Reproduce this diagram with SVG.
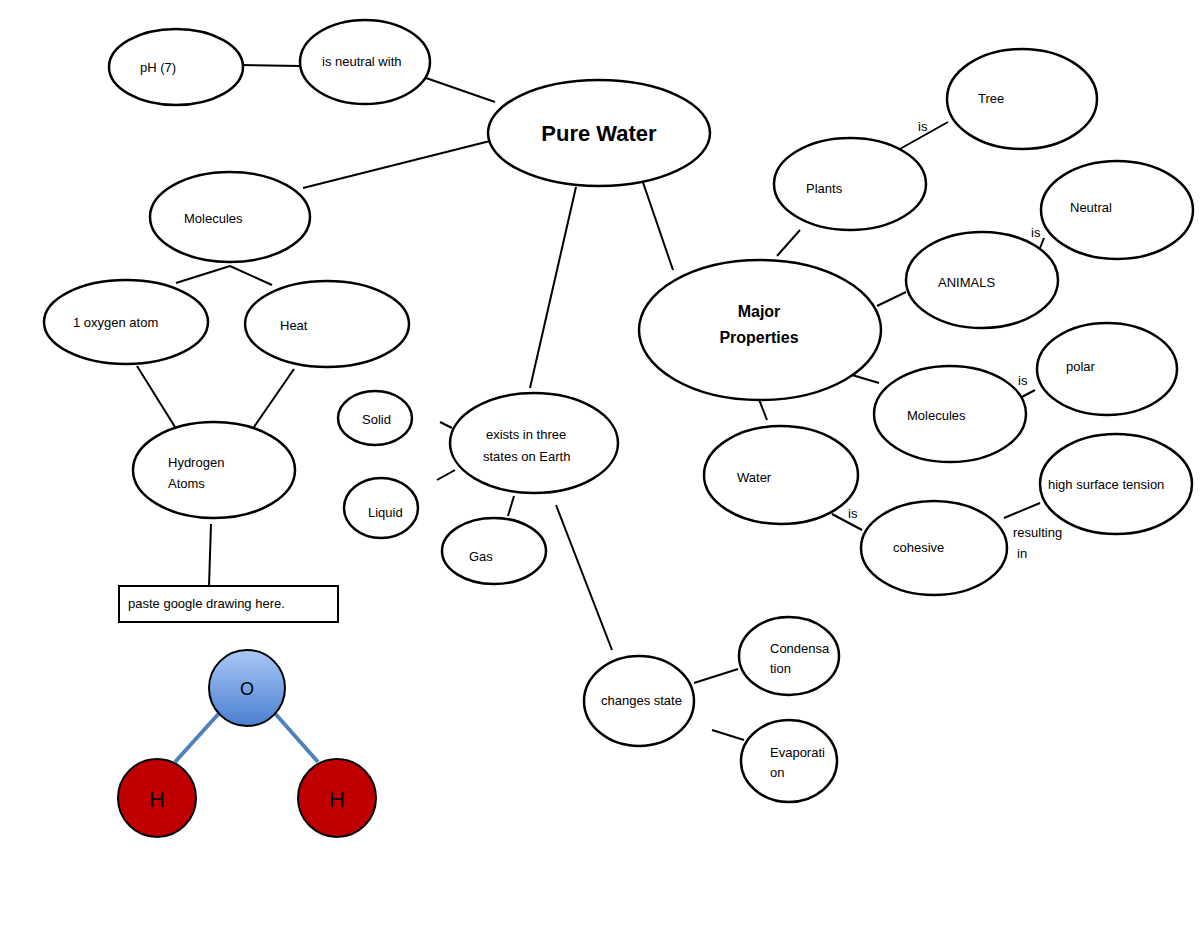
<svg xmlns="http://www.w3.org/2000/svg" width="1200" height="927" viewBox="0 0 1200 927">
<style>
ellipse{fill:#fff;stroke:#000;stroke-width:2.5}
text{font-family:"Liberation Sans","DejaVu Sans",sans-serif;font-size:13px;fill:#000}
.c line{stroke:#000;stroke-width:2}
</style>
<defs>
<linearGradient id="gb" x1="0" y1="0" x2="0" y2="1"><stop offset="0" stop-color="#a9c8f5"/><stop offset="1" stop-color="#4a7fd0"/></linearGradient>
</defs>
<rect width="1200" height="927" fill="#fff"/>
<g class="c">
<line x1="240" y1="65" x2="300" y2="66"/>
<line x1="426" y1="78" x2="495" y2="102"/>
<line x1="303" y1="188" x2="490" y2="141"/>
<line x1="176" y1="283" x2="230" y2="266"/>
<line x1="230" y1="266" x2="272" y2="285"/>
<line x1="137" y1="366" x2="175" y2="427"/>
<line x1="294" y1="369" x2="254" y2="427"/>
<line x1="211" y1="524" x2="209" y2="586"/>
<line x1="576" y1="187" x2="530" y2="388"/>
<line x1="636" y1="162" x2="673" y2="270"/>
<line x1="440" y1="422" x2="452" y2="428"/>
<line x1="437" y1="480" x2="455" y2="470"/>
<line x1="508" y1="516" x2="514" y2="496"/>
<line x1="556" y1="505" x2="612" y2="650"/>
<line x1="694" y1="683" x2="738" y2="669"/>
<line x1="712" y1="730" x2="744" y2="740"/>
<line x1="777" y1="256" x2="800" y2="230"/>
<line x1="877" y1="306" x2="906" y2="292"/>
<line x1="852" y1="375" x2="879" y2="383"/>
<line x1="758" y1="397" x2="767" y2="420"/>
<line x1="898" y1="150" x2="948" y2="122"/>
<line x1="1040" y1="248" x2="1044" y2="238"/>
<line x1="1020" y1="398" x2="1035" y2="390"/>
<line x1="832" y1="514" x2="862" y2="530"/>
<line x1="1004" y1="518" x2="1040" y2="503"/>
</g>
<g id="ph"><ellipse cx="176" cy="67" rx="67" ry="38"/><text x="140" y="72">pH (7)</text></g>
<g id="neutralwith"><ellipse cx="365" cy="62" rx="65" ry="42"/><text x="322" y="66">is neutral with</text></g>
<g id="purewater"><ellipse cx="599" cy="133" rx="111" ry="53"/><text x="599" y="141" text-anchor="middle" style="font-size:22px;font-weight:bold;font-family:'Liberation Sans',sans-serif">Pure Water</text></g>
<g id="molecules1"><ellipse cx="230" cy="217" rx="80" ry="45"/><text x="184" y="223">Molecules</text></g>
<g id="oxygen"><ellipse cx="126" cy="322" rx="82" ry="42"/><text x="73" y="327">1 oxygen atom</text></g>
<g id="heat"><ellipse cx="327" cy="324" rx="82" ry="43"/><text x="280" y="330">Heat</text></g>
<g id="hydrogen"><ellipse cx="214" cy="470" rx="81" ry="48"/><text x="168" y="467">Hydrogen</text><text x="168" y="488">Atoms</text></g>
<g id="paste"><rect x="119" y="586" width="219" height="36" fill="#fff" stroke="#000" stroke-width="2"/><text x="128" y="608">paste google drawing here.</text></g>
<g id="solid"><ellipse cx="375" cy="418" rx="37" ry="27"/><text x="362" y="424">Solid</text></g>
<g id="exists"><ellipse cx="534" cy="443" rx="84" ry="50"/><text x="486" y="439">exists in three</text><text x="483" y="461">states on Earth</text></g>
<g id="liquid"><ellipse cx="381" cy="508" rx="37" ry="30"/><text x="368" y="517">Liquid</text></g>
<g id="gas"><ellipse cx="494" cy="551" rx="52" ry="33"/><text x="469" y="561">Gas</text></g>
<g id="changes"><ellipse cx="639" cy="701" rx="55" ry="45"/><text x="601" y="705">changes state</text></g>
<g id="condensation"><ellipse cx="789" cy="656" rx="50" ry="39"/><text x="770" y="653">Condensa</text><text x="770" y="673">tion</text></g>
<g id="evaporation"><ellipse cx="789" cy="761" rx="48" ry="41"/><text x="770" y="757">Evaporati</text><text x="770" y="777">on</text></g>
<g id="major"><ellipse cx="760" cy="330" rx="121" ry="70"/><text x="759" y="317" text-anchor="middle" style="font-size:16px;font-weight:bold">Major</text><text x="759" y="343" text-anchor="middle" style="font-size:16px;font-weight:bold">Properties</text></g>
<g id="plants"><ellipse cx="850" cy="184" rx="76" ry="46"/><text x="806" y="193">Plants</text></g>
<g id="tree"><ellipse cx="1022" cy="99" rx="75" ry="50"/><text x="978" y="103">Tree</text></g>
<g id="neutral"><ellipse cx="1117" cy="210" rx="76" ry="49"/><text x="1070" y="212">Neutral</text></g>
<g id="animals"><ellipse cx="982" cy="280" rx="76" ry="48"/><text x="938" y="287">ANIMALS</text></g>
<g id="polar"><ellipse cx="1107" cy="369" rx="70" ry="46"/><text x="1066" y="371">polar</text></g>
<g id="molecules2"><ellipse cx="950" cy="414" rx="76" ry="48"/><text x="907" y="420">Molecules</text></g>
<g id="water"><ellipse cx="781" cy="475" rx="77" ry="49"/><text x="737" y="482">Water</text></g>
<g id="surface"><ellipse cx="1116" cy="484" rx="76" ry="50"/><text x="1048" y="489">high surface tension</text></g>
<g id="cohesive"><ellipse cx="934" cy="548" rx="73" ry="47"/><text x="893" y="552">cohesive</text></g>
<g id="labels">
<text x="918" y="131">is</text>
<text x="1031" y="237">is</text>
<text x="1018" y="385">is</text>
<text x="848" y="518">is</text>
<text x="1013" y="537">resulting</text>
<text x="1017" y="558">in</text>
</g>
<g id="molecule">
<line x1="222" y1="710" x2="175" y2="762" stroke="#4f81bd" stroke-width="4"/>
<line x1="272" y1="710" x2="318" y2="762" stroke="#4f81bd" stroke-width="4"/>
<circle cx="247" cy="688" r="38" fill="url(#gb)" stroke="#000" stroke-width="2"/>
<text x="247" y="695" text-anchor="middle" style="font-size:18px">O</text>
<circle cx="157" cy="798" r="39" fill="#c00000" stroke="#000" stroke-width="2"/>
<text x="157" y="807" text-anchor="middle" style="font-size:22px">H</text>
<circle cx="337" cy="798" r="39" fill="#c00000" stroke="#000" stroke-width="2"/>
<text x="337" y="807" text-anchor="middle" style="font-size:22px">H</text>
</g>
</svg>
